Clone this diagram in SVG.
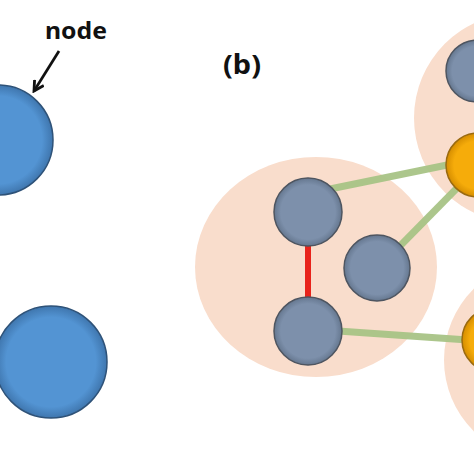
<svg xmlns="http://www.w3.org/2000/svg" width="474" height="474" viewBox="0 0 474 474">
<defs>
<radialGradient id="gBlue" cx="50%" cy="50%" r="50%">
<stop offset="0.8" stop-color="#5394D3"/><stop offset="1" stop-color="#3F76AE"/>
</radialGradient>
<radialGradient id="gGrey" cx="50%" cy="50%" r="50%">
<stop offset="0.8" stop-color="#7D90AB"/><stop offset="1" stop-color="#65778F"/>
</radialGradient>
<radialGradient id="gOrange" cx="50%" cy="50%" r="50%">
<stop offset="0.75" stop-color="#F6AC0A"/><stop offset="1" stop-color="#D58D00"/>
</radialGradient>
<marker id="arr" viewBox="0 0 12 12" refX="10" refY="6" markerWidth="13" markerHeight="13" markerUnits="userSpaceOnUse" orient="auto">
<polyline points="1,1 10,6 1,11" fill="none" stroke="#111" stroke-width="2.6"/>
</marker>
<style>
.blue{fill:url(#gBlue);stroke:#2E5278;stroke-width:1.5}
.grey{fill:url(#gGrey);stroke:#4E5560;stroke-width:1.5}
.orange{fill:url(#gOrange);stroke:#9A6A10;stroke-width:1.5}
.peach{fill:#F9DDCC}
.green{stroke:#A8C486;stroke-width:7;stroke-linecap:butt;opacity:0.95}
.red{stroke:#E8231B;stroke-width:6}
.lbl{font-family:"Noto Sans","Liberation Sans",sans-serif;font-weight:bold;fill:#111}
</style>
</defs>
<rect width="474" height="474" fill="#fff"/>
<g id="group-left"><ellipse class="peach" cx="316" cy="267" rx="121" ry="110"/></g>
<g id="group-top"><circle class="peach" cx="519" cy="118" r="105"/></g>
<g id="group-bottom"><circle class="peach" cx="544" cy="360" r="100"/></g>
<g id="connectors">
<line class="red" x1="308" y1="244" x2="308" y2="299"/>
<line class="green" x1="330" y1="189" x2="452" y2="164"/>
<line class="green" x1="398" y1="248" x2="462" y2="183"/>
<line class="green" x1="338" y1="331" x2="468" y2="340"/>
<line x1="59" y1="51" x2="34" y2="91" stroke="#111" stroke-width="2.8" marker-end="url(#arr)"/>
</g>
<g id="node-blue-1"><circle class="blue" cx="-2" cy="140" r="55"/></g>
<g id="node-blue-2"><circle class="blue" cx="51" cy="362" r="56"/></g>
<g id="node-a"><circle class="grey" cx="308" cy="212" r="34"/></g>
<g id="node-b"><circle class="grey" cx="377" cy="268" r="33"/></g>
<g id="node-c"><circle class="grey" cx="308" cy="331" r="34"/></g>
<g id="node-top"><circle class="grey" cx="477" cy="71" r="31"/></g>
<g id="node-orange-1"><circle class="orange" cx="478" cy="165" r="32"/></g>
<g id="node-orange-2"><circle class="orange" cx="494" cy="340" r="32"/></g>
<text class="lbl" x="45" y="39" font-size="24" textLength="62" lengthAdjust="spacingAndGlyphs">node</text>
<text class="lbl" x="223" y="74" font-size="26" textLength="38" lengthAdjust="spacingAndGlyphs">(b)</text>
</svg>
